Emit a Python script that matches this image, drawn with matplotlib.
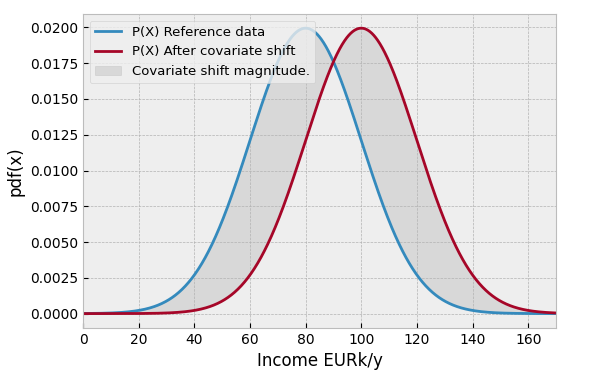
import numpy as np
import matplotlib
matplotlib.use("Agg")
import matplotlib.pyplot as plt

plt.style.use("bmh")

# Distribution parameters
ref_mean, ref_std = 80.0, 20.0
shift_mean, shift_std = 100.0, 20.0
x_min, x_max = 0, 170
labels = ["P(X) Reference data", "P(X) After covariate shift", "Covariate shift magnitude."]

x = np.linspace(x_min, x_max, 1000)

def pdf(v, m, s):
    return np.exp(-0.5 * ((v - m) / s) ** 2) / (s * np.sqrt(2 * np.pi))

y_ref = pdf(x, ref_mean, ref_std)
y_shift = pdf(x, shift_mean, shift_std)

fig, ax = plt.subplots(figsize=(5.89, 3.76), dpi=100)
ax.plot(x, y_ref, label=labels[0])
ax.plot(x, y_shift, label=labels[1])
ax.fill_between(x, y_ref, y_shift, color="grey", alpha=0.2, label=labels[2])
ax.set_xlim(x_min, x_max)
ax.set_xlabel("Income EURk/y")
ax.set_ylabel("pdf(x)")
ax.legend(loc="upper left", fontsize=9.5)
fig.subplots_adjust(left=0.141, right=0.944, top=0.963, bottom=0.128)
fig.savefig("out.png")
